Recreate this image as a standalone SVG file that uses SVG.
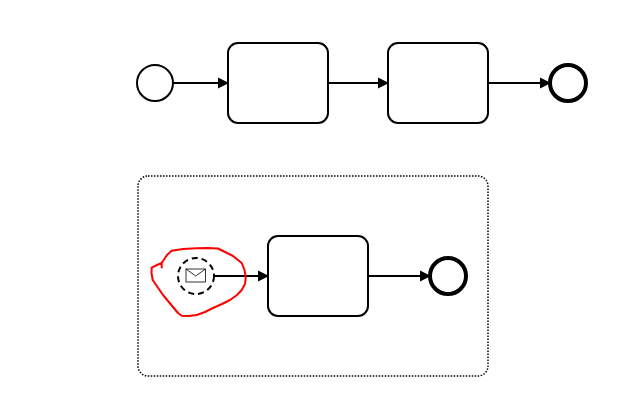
<svg xmlns="http://www.w3.org/2000/svg" width="620" height="414" viewBox="0 0 620 414">
  <style>
    .shape { fill: #fff; stroke: #000; stroke-width: 2; }
    .end { fill: #fff; stroke: #000; stroke-width: 4; }
    .flow { fill: none; stroke: #000; stroke-width: 2; marker-end: url(#arrow); }
  </style>
  <defs>
    <marker id="arrow" markerUnits="userSpaceOnUse" markerWidth="12" markerHeight="12" refX="11" refY="6" orient="auto">
      <path d="M0 0.500 L11 6 L0 11.500 Z" fill="#000"/>
    </marker>
  </defs>
  <rect width="620" height="414" fill="#fff"/>
  <g id="subprocess">
    <rect x="138" y="176" width="350" height="200" rx="10" ry="10" fill="#fff" stroke="#000" stroke-width="1.500" stroke-dasharray="1.500 1.500"/>
  </g>
  <g id="connectors">
    <path class="flow" d="M173 83 H229"/>
    <path class="flow" d="M328 83 H389"/>
    <path class="flow" d="M488 83 H551"/>
    <path class="flow" d="M214 276 H269"/>
    <path class="flow" d="M368 276 H431"/>
  </g>
  <g id="start-1"><circle class="shape" cx="155" cy="83" r="18"/></g>
  <g id="task-1"><rect class="shape" x="228" y="43" width="100" height="80" rx="10" ry="10"/></g>
  <g id="task-2"><rect class="shape" x="388" y="43" width="100" height="80" rx="10" ry="10"/></g>
  <g id="end-1"><circle class="end" cx="568" cy="83" r="18"/></g>
  <g id="message-start">
    <circle cx="196" cy="276" r="18" fill="#fff" stroke="#000" stroke-width="2" stroke-dasharray="6 4"/>
    <rect x="186" y="269" width="19.500" height="13" fill="#fff" stroke="#000" stroke-width="0.800"/>
    <path d="M186 269 L195.700 276 L205.500 269" fill="none" stroke="#000" stroke-width="0.800"/>
  </g>
  <g id="task-3"><rect class="shape" x="268" y="236" width="100" height="80" rx="10" ry="10"/></g>
  <g id="end-2"><circle class="end" cx="448" cy="276" r="18"/></g>
  <g id="annotation">
    <path d="M161.700 268.300 L161.700 263 L156 265.500 L151.700 267.700 L151.500 273 L152.700 280 L163 295 L173 307 L178 313 L181.700 315.700 L189 316 L196.700 315 L205 312 L213 308 L222 304 L230 300 L237 295 L241.700 290 L245 284 L245.700 278 L244.500 270 L241.700 263 L233 256 L225 252 L218 248.500 L208 248 L196.700 248.200 L183 249 L171.700 250.700 L167 255 L165 258 L161.700 263" fill="none" stroke="#f00" stroke-width="2" stroke-linejoin="round"/>
  </g>
</svg>
